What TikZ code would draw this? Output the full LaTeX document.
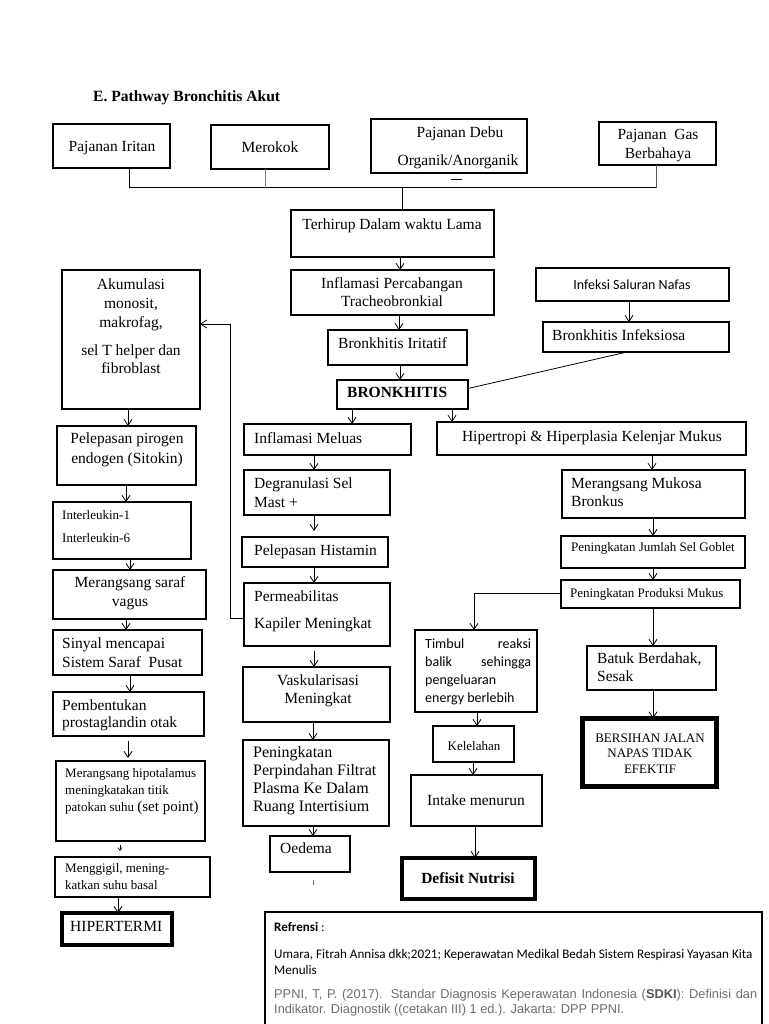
\documentclass[tikz,border=0pt]{standalone}
\usepackage{fontspec}
\setmainfont{Liberation Serif}
\newfontfamily\carl{Carlito}
\newfontfamily\arl{Liberation Sans}
\usetikzlibrary{arrows.meta,calc}
\definecolor{refgray}{HTML}{6E6E6E}
\definecolor{refdark}{HTML}{555555}
\definecolor{tickblue}{HTML}{3A6FD8}
\newcommand\fs[1]{\fontsize{#1}{#1}\selectfont}
\newcommand\bx[6][]{\node[bxs,#1,anchor=north west,minimum width={#5pt-#3pt},minimum height={#6pt-#4pt}] (#2) at (#3,#4) {};}
\newcommand\tx[5][]{\node[txs,#1] (#2) at (#3,#4) {#5};}
\begin{document}
\begin{tikzpicture}[x=1pt,y=-1pt,
 bxs/.style={draw,line width=1.1pt,inner sep=0pt,outer sep=0pt},
 thk/.style={line width=1.8pt},
 txs/.style={anchor=mid west,inner sep=0pt,yshift=-3.5pt,font=\fs{15.5}},
 ctr/.style={anchor=mid},
 sm/.style={font=\fs{13}},
 sans/.style={font=\carl\fs{14}},
 arr/.style={line width=0.8pt,-{Straight Barb[length=6pt,width=8pt,line width=0.8pt]}},
 ln/.style={line width=1pt}]
\useasboundingbox (0,0) rectangle (768,1024);
\fill[white] (0,0) rectangle (768,1024);
\foreach \v in {118,120,126,128,129,130,200,230,265,313,314,352,399,400,402,452,473,474,475,477,627,629,652,653,656}
  \coordinate (X\v) at (\v,0);

% title
\node[txs,font=\bfseries\fs{15.6}] (title) at (93,96) {E. Pathway Bronchitis Akut};

% top row
\bx{iritan}{53}{124}{170}{168}
\tx[ctr]{t1}{112}{146}{Pajanan Iritan}
\bx{merokok}{211}{125}{329}{169}
\tx[ctr]{t2}{270}{147}{Merokok}
\bx[line width=1.3pt]{debu}{371}{119}{527}{173}
\tx[ctr]{t3a}{460}{132}{Pajanan Debu}
\tx[ctr]{t3b}{458}{160}{Organik/Anorganik}
\draw[line width=0.8pt] (451,179) -- (462,179);
\bx{gas}{599}{122}{716}{165}
\tx[ctr]{t4a}{658}{134}{Pajanan\ \ Gas}
\tx[ctr]{t4b}{658}{153}{Berbahaya}

\coordinate (bL) at (129,188);
\coordinate (bR) at (656,188);
\draw[ln] (iritan.south -| X129) -- (bL) -- (bR);
\draw[ln,gray] (merokok.south -| X265) -- (X265 |- bL);
\draw[ln,gray!70!black] (gas.south -| X656) -- (bR);

% centre column
\bx{terhirup}{291}{210}{494}{257}
\tx[ctr]{t5}{392}{224}{Terhirup Dalam waktu Lama}
\draw[ln] (bL -| X402) -- (terhirup.north -| X402);

\bx[thk]{inflP}{291}{270}{494}{315}
\tx[ctr]{t6a}{392}{283}{Inflamasi Percabangan}
\tx[ctr]{t6b}{392}{301}{Tracheobronkial}
\draw[arr] (terhirup.south -| X400) -- (inflP.north -| X400);

\bx[line width=1.4pt]{iritatif}{328}{330}{467}{365}
\tx{t7}{338}{343}{Bronkhitis Iritatif}
\draw[arr] (inflP.south -| X399) -- (iritatif.north -| X399);

\bx[line width=1.4pt]{bronk}{337}{380}{468}{409}
\tx[font=\bfseries\fs{15.5}]{t8}{347}{392}{BRONKHITIS}
\draw[arr] (iritatif.south -| X400) -- (bronk.north -| X400);

% right top
\bx{infeksi}{536}{268}{729}{301}
\tx[ctr,sans]{t9}{632}{284}{Infeksi Saluran Nafas}
\bx{infeksiosa}{543}{322}{729}{352}
\tx{t10}{552}{335}{Bronkhitis Infeksiosa}
\draw[arr] (infeksi.south -| X629) -- (infeksiosa.north -| X629);
\draw[line width=0.8pt] (infeksiosa.south -| X627) -- ($(bronk.east)+(0,-6)$);

% left column
\bx{akum}{62}{270}{200}{409}
\tx[ctr]{t11a}{131}{284}{Akumulasi}
\tx[ctr]{t11b}{131}{303}{monosit,}
\tx[ctr]{t11c}{131}{322}{makrofag,}
\tx[ctr]{t11d}{131}{350}{sel T helper dan}
\tx[ctr]{t11e}{131}{368}{fibroblast}

\bx[thk]{pirogen}{57}{426}{196}{485}
\tx[ctr]{t12a}{127}{438}{Pelepasan pirogen}
\tx[ctr]{t12b}{127}{458}{endogen (Sitokin)}
\draw[arr] (akum.south -| X128) -- (pirogen.north -| X128);

\bx{inter}{53}{502}{191}{559}
\tx[sm]{t13a}{62}{514}{Interleukin-1}
\tx[sm]{t13b}{62}{537}{Interleukin-6}
\draw[arr] (pirogen.south -| X126) -- (inter.north -| X126);

\bx{vagus}{53}{570}{206}{619}
\tx[ctr]{t14a}{130}{582}{Merangsang saraf}
\tx[ctr]{t14b}{130}{601}{vagus}
\draw[arr] (inter.south -| X130) -- (vagus.north -| X130);

\bx[line width=1.4pt]{sinyal}{53}{630}{202}{675}
\tx{t15a}{62}{643}{Sinyal mencapai}
\tx{t15b}{62}{662}{Sistem Saraf\ \ Pusat}
\draw[arr] (vagus.south -| X126) -- (sinyal.north -| X126);

\bx[line width=1.4pt]{prosta}{53}{692}{204}{736}
\tx{t16a}{62}{705}{Pembentukan}
\tx{t16b}{62}{722}{prostaglandin otak}
\draw[arr] (sinyal.south -| X130) -- (prosta.north -| X130);

\bx{hipot}{56}{761}{205}{841}
\tx[sm]{t17a}{65}{772}{Merangsang hipotalamus}
\tx[sm]{t17b}{65}{789}{meningkatakan titik}
\tx[sm]{t17c}{65}{806}{patokan suhu {\fs{15}(set point)}}
\draw[arr,shorten <=5pt,shorten >=3pt] (prosta.south -| X128) -- (hipot.north -| X128);

\bx{gigil}{55}{857}{210}{897}
\tx[sm]{t18a}{65}{867}{Menggigil, mening-}
\tx[sm]{t18b}{65}{884}{katkan suhu basal}
\draw[line width=0.6pt,-{Straight Barb[length=3pt,width=4pt,line width=0.6pt]},shorten <=4pt,shorten >=6pt] (hipot.south -| X120) -- (gigil.north -| X120);

\bx[line width=4pt]{hiper}{62}{913}{172}{945}
\tx{t19}{70}{926}{HIPERTERMI}
\draw[arr] (gigil.south -| X118) -- (hiper.north -| X118);

% middle column
\bx{meluas}{244}{424}{411}{455}
\tx{t20}{254}{438}{Inflamasi Meluas}
\draw[arr] (bronk.south -| X352) -- (meluas.north -| X352);

\bx{hipertropi}{437}{422}{746}{455}
\tx[ctr]{t21}{592}{436}{Hipertropi \& Hiperplasia Kelenjar Mukus}
\draw[arr] (bronk.south -| X452) -- (hipertropi.north -| X452);

\bx{degran}{244}{470}{390}{515}
\tx{t22a}{254}{483}{Degranulasi Sel}
\tx{t22b}{254}{502}{Mast +}
\draw[arr] (meluas.south -| X314) -- (degran.north -| X314);

\bx[thk]{histamin}{242}{537}{388}{567}
\tx{t23}{254}{550}{Pelepasan Histamin}
\draw[arr,shorten >=6pt] (degran.south -| X314) -- (histamin.north -| X314);

\bx{permea}{244}{583}{390}{646}
\tx{t24a}{254}{596}{Permeabilitas}
\tx{t24b}{254}{623}{Kapiler Meningkat}
\draw[arr] (histamin.south -| X314) -- (permea.north -| X314);

\coordinate (fbA) at (230,618);
\coordinate (fbB) at (230,324);
\draw[arr] (permea.west |- fbA) -- (fbA) -- (fbB) -- (akum.east |- fbB);

\bx[thk]{vasku}{243}{667}{390}{722}
\tx[ctr]{t25a}{318}{680}{Vaskularisasi}
\tx[ctr]{t25b}{318}{698}{Meningkat}
\draw[arr,shorten <=5pt] (permea.south -| X314) -- (vasku.north -| X314);

\bx{filtrat}{243}{740}{389}{826}
\tx[font=\fs{16}]{t26a}{253}{752}{Peningkatan}
\tx[font=\fs{16}]{t26b}{253}{770}{Perpindahan Filtrat}
\tx[font=\fs{16}]{t26c}{253}{788}{Plasma Ke Dalam}
\tx[font=\fs{16}]{t26d}{253}{806}{Ruang Intertisium}
\draw[arr] (vasku.south -| X313) -- (filtrat.north -| X313);

\bx{oedema}{270}{836}{350}{872}
\tx{t27}{280}{848}{Oedema}
\draw[arr] (filtrat.south -| X313) -- (oedema.north -| X313);
\draw[tickblue,line width=0.9pt] (313,880) -- (313,885);

% right column
\bx{mukosa}{562}{470}{745}{518}
\tx{t28a}{571}{483}{Merangsang Mukosa}
\tx{t28b}{571}{501}{Bronkus}
\draw[arr] (hipertropi.south -| X652) -- (mukosa.north -| X652);

\bx[thk]{goblet}{561}{536}{745}{568}
\tx[ctr,sm]{t29}{653}{546}{Peningkatan Jumlah Sel Goblet}
\draw[arr] (mukosa.south -| X653) -- (goblet.north -| X653);

\bx{produksi}{561}{580}{740}{608}
\tx[sm]{t30}{570}{592}{Peningkatan Produksi Mukus}
\draw[arr] (goblet.south -| X653) -- (produksi.north -| X653);

\bx[thk]{timbul}{415}{630}{537}{712}
\tx[sans]{t31a}{425}{643}{\hbox to 106pt{Timbul\hfill reaksi}}
\tx[sans]{t31b}{425}{661}{\hbox to 106pt{balik\hfill sehingga}}
\tx[sans]{t31c}{425}{679}{pengeluaran}
\tx[sans]{t31d}{425}{697}{energy berlebih}
\coordinate (prL) at (474,593);
\draw[arr] (produksi.west |- prL) -- (prL) -- (timbul.north -| X474);

\bx{batuk}{587}{646}{716}{690}
\tx{t32a}{597}{658}{Batuk Berdahak,}
\tx{t32b}{597}{676}{Sesak}
\draw[arr] (produksi.south -| X653) -- (batuk.north -| X653);

\bx[line width=5pt]{bersihan}{582.5}{718.5}{716.5}{786.5}
\tx[ctr,sm]{t33a}{650}{737}{BERSIHAN JALAN}
\tx[ctr,sm]{t33b}{650}{752}{NAPAS TIDAK}
\tx[ctr,sm]{t33c}{650}{768}{EFEKTIF}
\draw[arr] (batuk.south -| X653) -- (bersihan.north -| X653);

\bx{lelah}{433}{726}{514}{762}
\tx[ctr,sm]{t34}{474}{745}{Kelelahan}
\draw[arr] (timbul.south -| X477) -- (lelah.north -| X477);

\bx{intake}{411}{775}{542}{826}
\tx[ctr]{t35}{476}{800}{Intake menurun}
\draw[arr] (lelah.south -| X473) -- (intake.north -| X473);

\bx[line width=4pt]{defisit}{402}{858}{535}{899}
\tx[ctr,font=\bfseries\fs{15.5}]{t36}{468}{878}{Defisit Nutrisi}
\draw[arr] (intake.south -| X475) -- (defisit.north -| X475);

% reference box
\bx[line width=1.5pt]{refbox}{265}{912}{762}{1040}
\tx[font=\carl\fs{13}]{r1}{274}{926}{\textbf{Refrensi} :}
\tx[font=\carl\fs{13.1}]{r2}{274}{953}{Umara, Fitrah Annisa dkk;2021; Keperawatan Medikal Bedah Sistem Respirasi Yayasan Kita}
\tx[font=\carl\fs{13.1}]{r3}{274}{969}{Menulis}
\tx[font=\arl\fs{12.8},text=refgray]{r4}{274}{993}{\hbox to 483pt{PPNI, T, P. (2017). Standar Diagnosis Keperawatan Indonesia ({\color{refdark}\textbf{SDKI}}): Definisi dan}}
\tx[font=\arl\fs{12.8},text=refgray]{r5}{274}{1008}{Indikator. Diagnostik ((cetakan III) 1 ed.). Jakarta: DPP PPNI.}
\end{tikzpicture}
\end{document}
